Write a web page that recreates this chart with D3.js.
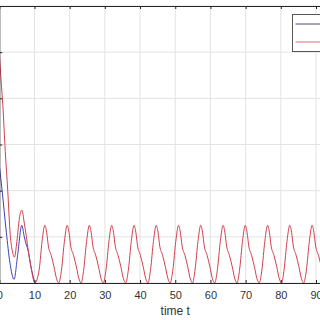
<!DOCTYPE html>
<html>
<head>
<meta charset="utf-8">
<script src="https://cdn.jsdelivr.net/npm/d3@7"></script>
<style>
  html, body { margin: 0; padding: 0; background: #fff; }
  svg { display: block; }
</style>
</head>
<body>
<div id="main"></div>
<script>
// values (y axis has no visible labels, units are gridline steps)
const xTicks = [0, 10, 20, 30, 40, 50, 60, 70, 80, 90, 100];
const yTicks = [0, 1, 2, 3, 4, 5, 6];

const blueT = [0, 0.8, 2.0, 3.0, 4.2, 5.2, 6.4, 7.1, 7.7, 8.2, 9.0, 10.1];
const blueV = [2.55, 2.0, 1.1, 0.45, 0.08, 0.6, 1.25, 1.0, 0.82, 0.7, 0.35, 0];

const redT = [0, 0.5, 1.0, 1.7, 2.4, 3.1, 3.7, 4.3, 5.0, 5.7, 6.4, 7.1, 7.7, 8.2, 9.0, 10.1,
  11.35, 12.15, 12.95, 13.45, 13.95, 14.75, 15.55, 16.25, 16.9,
  17.7, 18.5, 19.3, 19.8, 20.3, 21.1, 21.9, 22.6, 23.25,
  24.0, 24.8, 25.6, 26.1, 26.6, 27.4, 28.2, 28.9, 29.55,
  30.35, 31.15, 31.95, 32.45, 32.95, 33.75, 34.55, 35.25, 35.9,
  36.7, 37.5, 38.3, 38.8, 39.3, 40.1, 40.9, 41.6, 42.25,
  43.0, 43.8, 44.6, 45.1, 45.6, 46.4, 47.2, 47.9, 48.55,
  49.35, 50.15, 50.95, 51.45, 51.95, 52.75, 53.55, 54.25, 54.9,
  55.65, 56.45, 57.25, 57.75, 58.25, 59.05, 59.85, 60.55, 61.2,
  62.0, 62.8, 63.6, 64.1, 64.6, 65.4, 66.2, 66.9, 67.55,
  68.3, 69.1, 69.9, 70.4, 70.9, 71.7, 72.5, 73.2, 73.85,
  74.65, 75.45, 76.25, 76.75, 77.25, 78.05, 78.85, 79.55, 80.2,
  80.95, 81.75, 82.55, 83.05, 83.55, 84.35, 85.15, 85.85, 86.5,
  87.3, 88.1, 88.9, 89.4, 89.9, 90.7, 91.5, 92.2, 92.85,
  93.6, 94.4, 95.2, 95.7, 96.2, 97.0, 97.8, 98.5, 99.15, 100];
const redV = [5, 4.4, 3.85, 2.85, 2.0, 1.05, 0.7, 0.56, 0.9, 1.4, 1.58, 1.3, 1.0, 0.72, 0.35, 0,
  0.3, 0.9, 1.25, 1.1, 0.8, 0.6, 0.35, 0.1, 0,
  0.3, 0.9, 1.25, 1.1, 0.8, 0.6, 0.35, 0.1, 0,
  0.3, 0.9, 1.25, 1.1, 0.8, 0.6, 0.35, 0.1, 0,
  0.3, 0.9, 1.25, 1.1, 0.8, 0.6, 0.35, 0.1, 0,
  0.3, 0.9, 1.25, 1.1, 0.8, 0.6, 0.35, 0.1, 0,
  0.3, 0.9, 1.25, 1.1, 0.8, 0.6, 0.35, 0.1, 0,
  0.3, 0.9, 1.25, 1.1, 0.8, 0.6, 0.35, 0.1, 0,
  0.3, 0.9, 1.25, 1.1, 0.8, 0.6, 0.35, 0.1, 0,
  0.3, 0.9, 1.25, 1.1, 0.8, 0.6, 0.35, 0.1, 0,
  0.3, 0.9, 1.25, 1.1, 0.8, 0.6, 0.35, 0.1, 0,
  0.3, 0.9, 1.25, 1.1, 0.8, 0.6, 0.35, 0.1, 0,
  0.3, 0.9, 1.25, 1.1, 0.8, 0.6, 0.35, 0.1, 0,
  0.3, 0.9, 1.25, 1.1, 0.8, 0.6, 0.35, 0.1, 0,
  0.3, 0.9, 1.25, 1.1, 0.8, 0.6, 0.35, 0.1, 0, 0.25];

const width = 320, height = 320;
const axisColor = "#262626";
const gridColor = "#e3e3e3";

// the plot box runs past the right and left edges of the picture
const x = d3.scaleLinear().domain([0, 100]).range([-0.7, 351.2]);
const y = d3.scaleLinear().domain([0, 6]).range([283, 6]);

const svg = d3.select("#main").append("svg")
    .attr("width", width)
    .attr("height", height)
    .attr("viewBox", [0, 0, width, height].join(" "));

svg.append("defs").append("clipPath").attr("id", "plotclip")
    .append("rect")
    .attr("x", x(0)).attr("y", y(6))
    .attr("width", x(100) - x(0)).attr("height", y(0) - y(6));

// grid
const grid = svg.append("g");
grid.selectAll("line.vx")
    .data(xTicks)
    .enter().append("line")
    .attr("x1", d => x(d)).attr("x2", d => x(d))
    .attr("y1", y(0)).attr("y2", y(6))
    .attr("stroke", gridColor).attr("stroke-width", 1);
grid.selectAll("line.hy")
    .data(yTicks)
    .enter().append("line")
    .attr("x1", x(0)).attr("x2", x(100))
    .attr("y1", d => y(d)).attr("y2", d => y(d))
    .attr("stroke", gridColor).attr("stroke-width", 1);

// lines
const line = d3.line()
    .curve(d3.curveMonotoneX)
    .x(d => x(d[0]))
    .y(d => y(d[1]));

const plot = svg.append("g").attr("clip-path", "url(#plotclip)");
plot.append("path")
    .attr("d", line(d3.zip(blueT, blueV)))
    .attr("fill", "none")
    .attr("stroke", "#3f3fb5")
    .attr("stroke-width", 1);
plot.append("path")
    .attr("d", line(d3.zip(redT, redV)))
    .attr("fill", "none")
    .attr("stroke", "#d0404e")
    .attr("stroke-width", 1);

// axes, ticks point inwards like matlab
function styleAxis(g) {
    g.select(".domain").attr("stroke", axisColor);
    g.selectAll(".tick line").attr("stroke", axisColor);
    g.selectAll(".tick text").attr("fill", "#333");
}

svg.append("g")
    .attr("transform", `translate(0,${y(0)})`)
    .call(d3.axisBottom(x).tickValues(xTicks).tickSize(-3).tickSizeOuter(0).tickPadding(8))
    .attr("font-family", "Liberation Sans, Arial, sans-serif")
    .attr("font-size", 11)
    .call(styleAxis);

svg.append("g")
    .attr("transform", `translate(0,${y(6)})`)
    .call(d3.axisTop(x).tickValues(xTicks).tickSize(-3).tickSizeOuter(0).tickFormat(""))
    .call(styleAxis);

svg.append("g")
    .attr("transform", `translate(${x(0)},0)`)
    .call(d3.axisLeft(y).tickValues(yTicks).tickSize(-3).tickSizeOuter(0).tickFormat(""))
    .call(styleAxis);

// x label
svg.append("text")
    .attr("x", x(50))
    .attr("y", 315)
    .attr("text-anchor", "middle")
    .attr("font-family", "Liberation Sans, Arial, sans-serif")
    .attr("font-size", 12)
    .attr("fill", "#333")
    .text("time t");

// legend box (cut by the right edge)
const legend = svg.append("g").attr("transform", "translate(292.5,14.5)");
legend.append("rect")
    .attr("width", 60).attr("height", 37)
    .attr("fill", "#fff")
    .attr("stroke", "#555")
    .attr("stroke-width", 1);
legend.append("line")
    .attr("x1", 3).attr("x2", 40).attr("y1", 9.5).attr("y2", 9.5)
    .attr("stroke", "#4a4a6e").attr("stroke-width", 1);
legend.append("line")
    .attr("x1", 3).attr("x2", 40).attr("y1", 27.5).attr("y2", 27.5)
    .attr("stroke", "#d8707c").attr("stroke-width", 1);
</script>
</body>
</html>
